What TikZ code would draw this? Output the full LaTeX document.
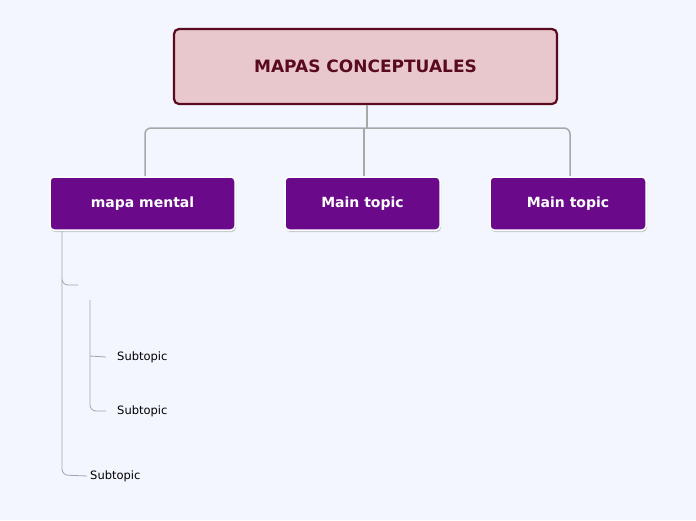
\documentclass[tikz,border=0pt]{standalone}
\usepackage{fontspec}
\setmainfont{DejaVu Sans}
\usetikzlibrary{shadows}
\definecolor{bg}{HTML}{F3F6FF}
\definecolor{rootfill}{HTML}{E8C8CC}
\definecolor{rootline}{HTML}{5A0A1E}
\definecolor{mainfill}{HTML}{6A0A8A}
\definecolor{conn}{HTML}{A8A8A8}
\definecolor{subc}{HTML}{A0A4B4}
\tikzset{
 rootbox/.style={draw=rootline,line width=2.2pt,fill=rootfill,rounded corners=5pt,minimum width=383pt,minimum height=75pt,text=rootline,font=\bfseries\fontsize{17}{20}\selectfont},
 mainbox/.style={draw=white,line width=1.5pt,fill=mainfill,rounded corners=4pt,minimum height=53pt,text=white,font=\bfseries\fontsize{14}{17}\selectfont,drop shadow={opacity=0.35,shadow xshift=1pt,shadow yshift=-2pt}},
 conline/.style={draw=conn,line width=1.5pt,rounded corners=6pt},
 subline/.style={draw=subc,line width=0.8pt,rounded corners=6pt},
 subtxt/.style={anchor=west,inner sep=0pt,font=\fontsize{11.5}{14}\selectfont}
}
\begin{document}
\begin{tikzpicture}[x=1pt,y=-1pt]
\fill[bg] (0,0) rectangle (696,520);
\useasboundingbox (0,0) rectangle (696,520);
\node[rootbox] (root) at (365.5,66.5) {MAPAS CONCEPTUALES};
\node[mainbox,minimum width=185pt] (m1) at (142.5,203.5) {mapa mental};
\node[mainbox,minimum width=155pt] (m2) at (362.5,203.5) {Main topic};
\node[mainbox,minimum width=156pt] (m3) at (568,203.5) {Main topic};
\coordinate (j) at (367,128);
\draw[conline] (root.south -| j) -- (j);
\draw[conline] (145,176) -- (145,128) -- (570,128) -- (570,176);
\draw[conline] (364,128) -- (364,176);
\coordinate (e) at (78,285);
\node[subtxt] (s1) at (117,357) {Subtopic};
\node[subtxt] (s2) at (117,411) {Subtopic};
\node[subtxt] (s3) at (90,476) {Subtopic};
\draw[subline] (62,231) -- (62,285) -- (e);
\draw[subline] (62,280) -- (62,475) -- ([xshift=-3pt]s3.west);
\draw[subline] (90,300) -- (90,411) -- ([xshift=-11pt]s2.west);
\draw[subline] (90,356) -- ([xshift=-11pt]s1.west);
\end{tikzpicture}
\end{document}
